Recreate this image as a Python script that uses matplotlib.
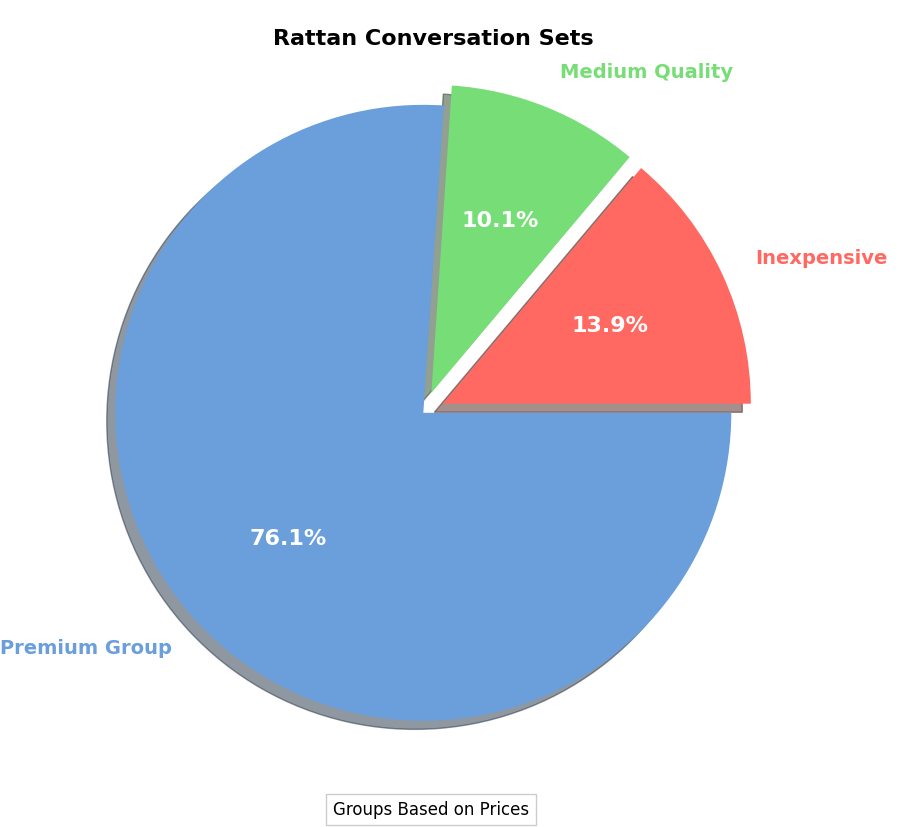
import matplotlib
matplotlib.use("Agg")
import matplotlib.pyplot as plt

labels = ['Inexpensive', 'Medium Quality', 'Premium Group']
sizes = [13.87, 10.07, 76.06]
colors = ['#FF6961', '#77DD77', '#6A9FDB']
explode = [0.07, 0.07, 0.0]

fig, ax = plt.subplots(figsize=(9.07, 8.27), dpi=100)
wedges, texts, autotexts = ax.pie(
    sizes, labels=labels, colors=colors, explode=explode, shadow=True,
    startangle=0, autopct='%1.1f%%', labeldistance=1.12,
    textprops={'fontsize': 14, 'fontweight': 'bold'})
for t, c in zip(texts, colors):
    t.set_color(c)
for t in autotexts:
    t.set_color('white')
    t.set_fontsize(16)
ax.set_title('Rattan Conversation Sets', fontsize=16, fontweight='bold')
ax.axis('equal')
fig.text(0.475, 0.015, 'Groups Based on Prices', ha='center', fontsize=12,
         bbox=dict(facecolor='white', edgecolor='#cccccc', boxstyle='square,pad=0.4'))
plt.subplots_adjust(left=0.03, right=0.925, top=0.935, bottom=0.09)
plt.savefig('out.png')
